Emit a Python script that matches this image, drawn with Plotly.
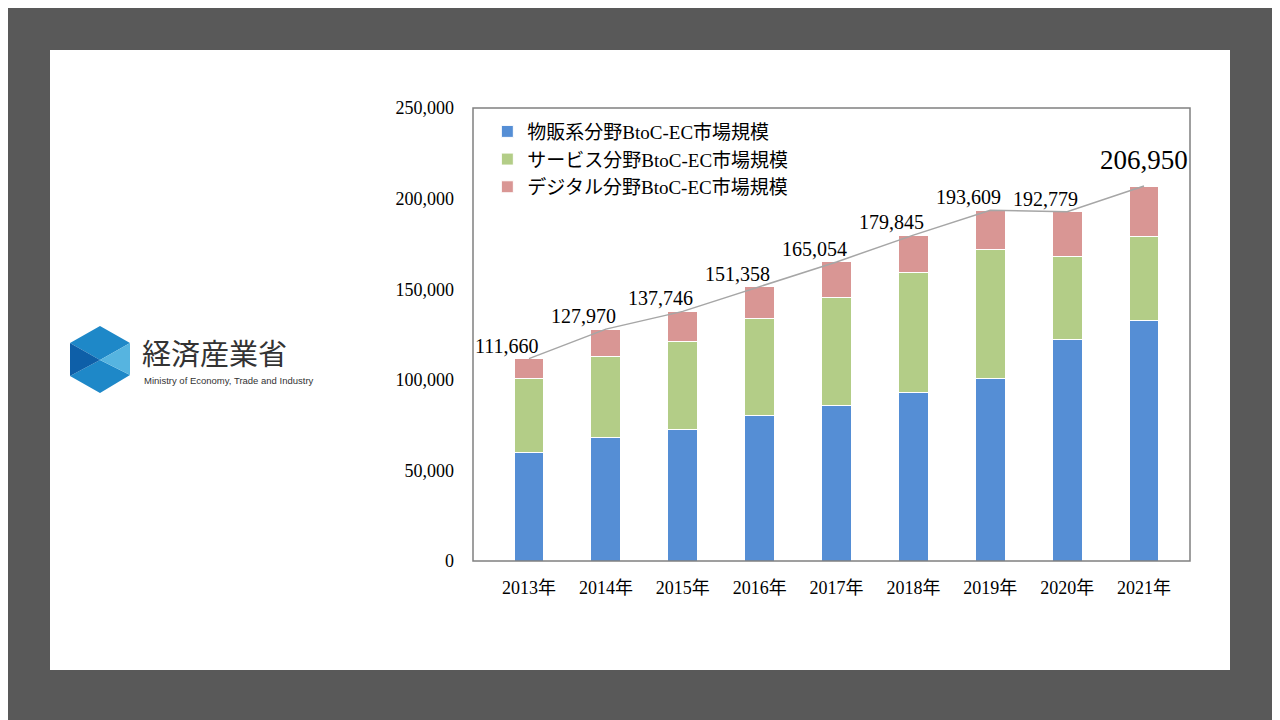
import plotly.graph_objects as go

years = ["2013年","2014年","2015年","2016年","2017年","2018年","2019年","2020年","2021年"]
goods = [59931, 68043, 72398, 80043, 86008, 92992, 100515, 122333, 132865]
services = [41000, 44816, 49014, 53532, 59568, 66471, 71672, 45832, 46424]
digital = [10729, 15111, 16334, 17783, 19478, 20382, 21422, 24614, 27661]
totals = [111660, 127970, 137746, 151358, 165054, 179845, 193609, 192779, 206950]
names = ["物販系分野BtoC-EC市場規模", "サービス分野BtoC-EC市場規模", "デジタル分野BtoC-EC市場規模"]

FONT = "Liberation Serif, Noto Sans CJK JP"
O = 8
L, R, T, B = 473, 1190, 108, 561
def px(x): return (x - L) / (R - L)
def py(y): return (B - y) / (B - T)

fig = go.Figure()
for vals, nm, col in zip([goods, services, digital], names, ["#558ED5", "#B3CD87", "#D99694"]):
    fig.add_bar(x=years, y=vals, name=nm, marker=dict(color=col, line=dict(color="white", width=1)))
fig.add_scatter(x=years, y=totals, mode="lines", line=dict(color="#A6A6A6", width=1.5), showlegend=False, hoverinfo="skip")

for i, (yr, t) in enumerate(zip(years, totals)):
    last = i == len(years) - 1
    fig.add_annotation(x=yr, y=t, text=f"{t:,}", showarrow=False, yshift=26 if last else 13,
                       xshift=0 if last else -22,
                       font=dict(size=27 if last else 20, color="black", family=FONT))

shapes = [
    dict(type="rect", xref="paper", yref="paper", x0=px(50), x1=px(1230), y0=py(670), y1=py(50),
         fillcolor="white", line=dict(width=0), layer="below"),
    dict(type="rect", xref="paper", yref="paper", x0=0, x1=1, y0=0, y1=1,
         line=dict(color="#808080", width=1.5), fillcolor="rgba(0,0,0,0)"),
    dict(type="path", xref="paper", yref="paper",
         path=f"M {px(70)},{py(343)} L {px(100)},{py(326)} L {px(130)},{py(343)} L {px(100)},{py(360)} L {px(130)},{py(375)} L {px(100)},{py(393)} L {px(70)},{py(376)} L {px(100)},{py(360)} Z",
         fillcolor="#1E88C8", line=dict(width=0)),
    dict(type="path", xref="paper", yref="paper",
         path=f"M {px(70)},{py(343)} L {px(100)},{py(360)} L {px(70)},{py(376)} Z",
         fillcolor="#0E5FA8", line=dict(width=0)),
    dict(type="path", xref="paper", yref="paper",
         path=f"M {px(130)},{py(343)} L {px(100)},{py(360)} L {px(130)},{py(375)} Z",
         fillcolor="#56B4E0", line=dict(width=0)),
]
fig.add_annotation(xref="paper", yref="paper", x=px(140), y=py(352), xanchor="left", yanchor="middle",
                   text="経済産業省", showarrow=False, font=dict(size=29, color="#333", family="Noto Sans CJK JP"))
fig.add_annotation(xref="paper", yref="paper", x=px(142), y=py(380), xanchor="left", yanchor="middle",
                   text="Ministry of Economy, Trade and Industry", showarrow=False,
                   font=dict(size=9.5, color="#333", family="Liberation Sans"))

fig.update_layout(
    width=1280, height=720, barmode="stack",
    margin=dict(l=L - O, r=1280 - R + O, t=T - O, b=720 - B + O),
    paper_bgcolor="#595959", plot_bgcolor="white",
    font=dict(family=FONT, size=18, color="black"),
    shapes=shapes, bargap=0.61,
    legend=dict(x=0.02, y=0.99, xanchor="left", yanchor="top", bgcolor="rgba(0,0,0,0)",
                traceorder="normal", font=dict(size=19, family=FONT), itemwidth=30, tracegroupgap=10),
    xaxis=dict(showgrid=False, tickfont=dict(size=18), ticks="", ticklabelstandoff=14),
    yaxis=dict(range=[0, 250000], dtick=50000, tickformat=",", showgrid=False, tickfont=dict(size=18),
               ticks="", ticklabelstandoff=18),
)
fig.write_html("out.html")
